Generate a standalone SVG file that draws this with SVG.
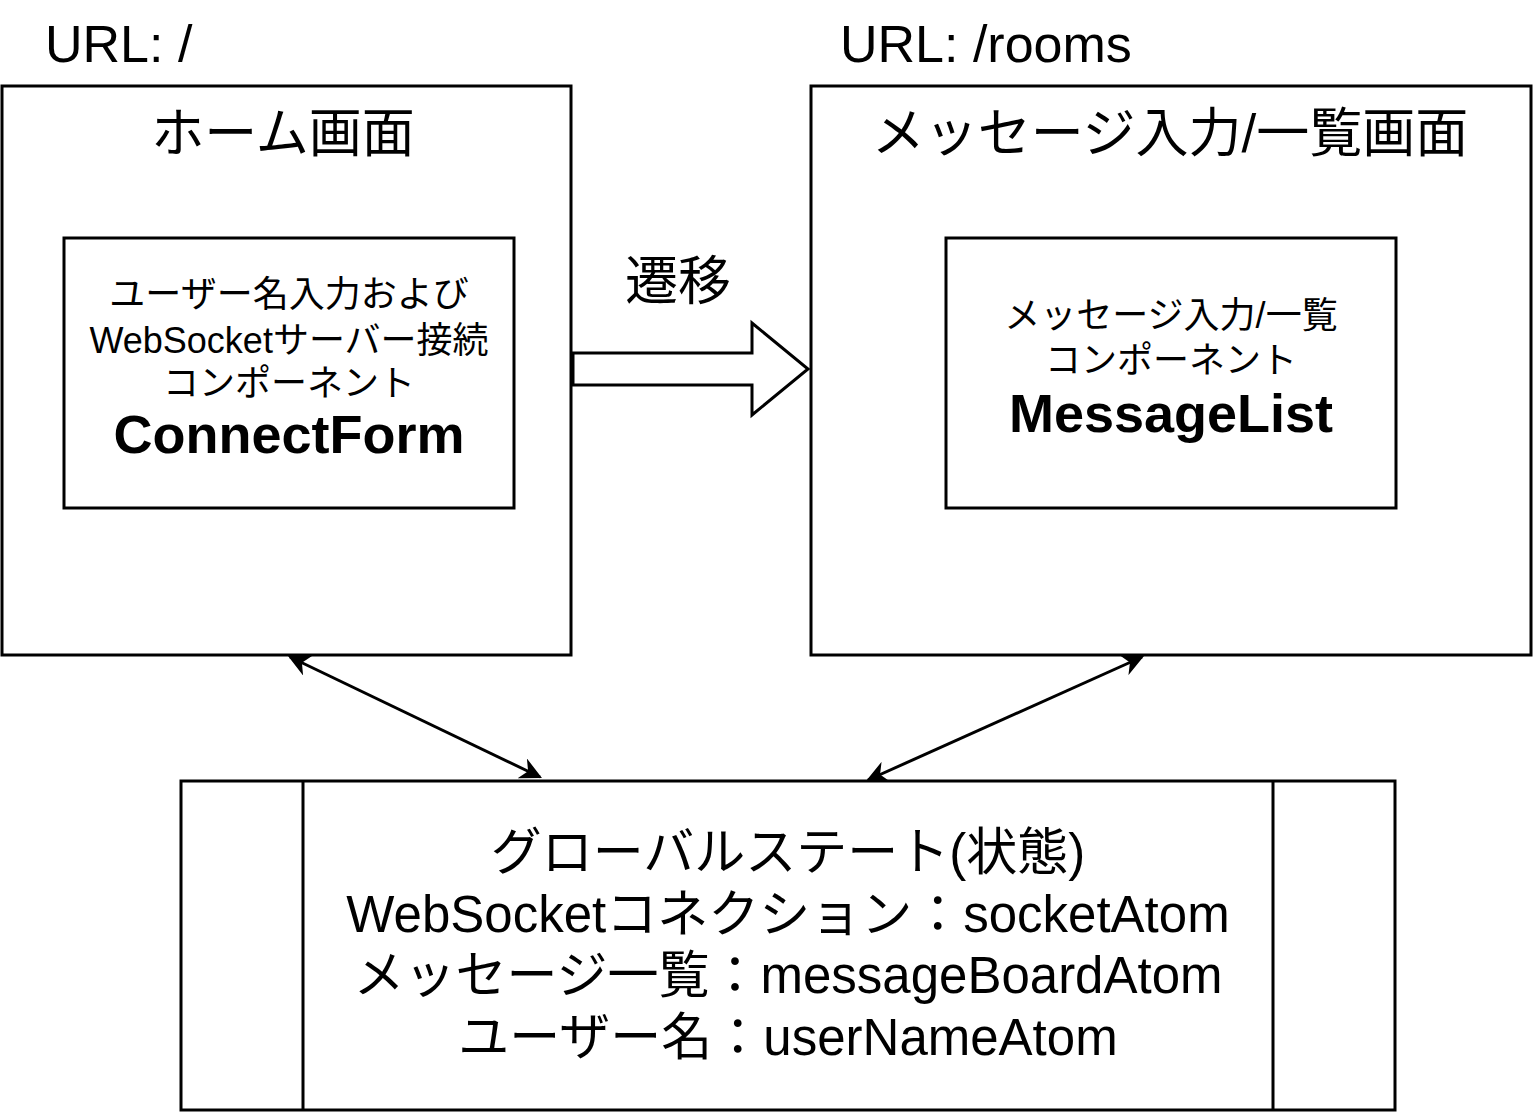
<svg xmlns="http://www.w3.org/2000/svg" width="1533" height="1113" viewBox="0 0 1533 1113">
<style>
.b{fill:#fff;stroke:#000;stroke-width:3}
text{font-family:"Liberation Sans","Noto Sans CJK JP",sans-serif;fill:#000}
.l{font-size:52px}
.m{font-size:36px;text-anchor:middle}
.h{font-size:54px;font-weight:bold;text-anchor:middle}
.c{font-size:53px;text-anchor:middle}
.s{font-size:51px;text-anchor:middle}
</style>
<defs><marker id="a" viewBox="0 0 10 10" refX="9" refY="5" markerWidth="22" markerHeight="22" orient="auto-start-reverse" markerUnits="userSpaceOnUse"><path d="M0,0L10,5L0,10L3,5Z" fill="#000"/></marker></defs>
<rect width="1533" height="1113" fill="#fff"/>
<text class="l" x="45" y="62">URL: /</text>
<text class="l" x="840" y="62">URL: /rooms</text>
<g id="home"><rect class="b" x="2" y="86" width="569" height="569"/><text class="c" x="283" y="152">ホーム画面</text></g>
<g id="connectform"><rect class="b" x="64" y="238" width="450" height="270"/>
<text class="m" x="289" y="307">ユーザー名入力および</text><text class="m" x="289" y="353">WebSocketサーバー接続</text><text class="m" x="289" y="396">コンポーネント</text><text class="h" x="289" y="453">ConnectForm</text></g>
<g id="rooms"><rect class="b" x="811" y="86" width="720" height="569"/><text class="c" x="1170" y="152">メッセージ入力/一覧画面</text></g>
<g id="messagelist"><rect class="b" x="946" y="238" width="450" height="270"/>
<text class="m" x="1171" y="328">メッセージ入力/一覧</text><text class="m" x="1171" y="373">コンポーネント</text><text class="h" x="1171" y="432">MessageList</text></g>
<g id="state"><rect class="b" x="181" y="781" width="1214" height="329"/><line x1="303" y1="781" x2="303" y2="1110" stroke="#000" stroke-width="3"/><line x1="1273" y1="781" x2="1273" y2="1110" stroke="#000" stroke-width="3"/>
<text class="s" x="788" y="870">グローバルステート(状態)</text><text class="s" x="788" y="932">WebSocketコネクション：socketAtom</text><text class="s" x="788" y="993">メッセージ一覧：messageBoardAtom</text><text class="s" x="788" y="1055">ユーザー名：userNameAtom</text></g>
<g id="connectors">
<path d="M573,353H752V323L808,369L752,415V385H573Z" fill="#fff" stroke="#000" stroke-width="3"/>
<text class="c" x="678" y="300">遷移</text>
<line x1="290" y1="657" x2="540" y2="777" stroke="#000" stroke-width="3" marker-start="url(#a)" marker-end="url(#a)"/>
<line x1="1142" y1="657" x2="868" y2="780" stroke="#000" stroke-width="3" marker-start="url(#a)" marker-end="url(#a)"/>
</g>
</svg>
